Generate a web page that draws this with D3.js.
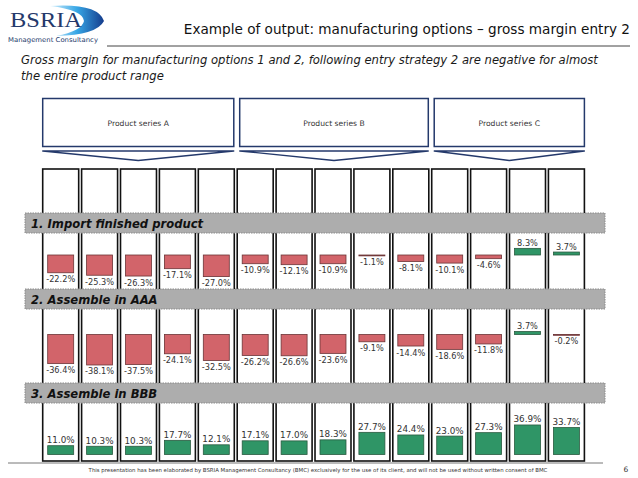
<!DOCTYPE html>
<html>
<head>
<meta charset="utf-8">
<script src="https://cdn.jsdelivr.net/npm/d3@7"></script>
<style>
  body { margin: 0; background: #fff; }
  svg { display: block; font-family: "DejaVu Sans", Verdana, sans-serif; }
</style>
</head>
<body>
<svg width="638" height="478"></svg>
<script>
// data
const products = d3.range(14);
const seriesNames = ["Product series A", "Product series B", "Product series C"];
const seriesFirst = [0, 5, 10];
const seriesLast = [4, 9, 13];
const optionNames = ["1. Import finished product", "2. Assemble in AAA", "3. Assemble in BBB"];
const importValues = [-22.2, -25.3, -26.3, -17.1, -27.0, -10.9, -12.1, -10.9, -1.1, -8.1, -10.1, -4.6, 8.3, 3.7];
const aaaValues = [-36.4, -38.1, -37.5, -24.1, -32.5, -26.2, -26.6, -23.6, -9.1, -14.4, -18.6, -11.8, 3.7, -0.2];
const bbbValues = [11.0, 10.3, 10.3, 17.7, 12.1, 17.1, 17.0, 18.3, 27.7, 24.4, 23.0, 27.3, 36.9, 33.7];

const svg = d3.select("svg");
const navy = "#24396b";

// logo
const defs = svg.append("defs");
const grad = defs.append("linearGradient").attr("id", "sw").attr("x1", "0").attr("x2", "1").attr("y1", "0").attr("y2", "0");
grad.append("stop").attr("offset", "0").attr("stop-color", "#d4f0fc");
grad.append("stop").attr("offset", "0.5").attr("stop-color", "#36a6e6");
grad.append("stop").attr("offset", "1").attr("stop-color", "#153c8c");
svg.append("path")
  .attr("d", "M50,6 Q98,3 104,21 Q97,35 56,36 Q82,31 84,21 Q83,10 50,6 Z")
  .attr("fill", "url(#sw)");
svg.append("text").attr("x", 10).attr("y", 27)
  .style("font-family", "'Liberation Serif', serif").style("font-size", "21px")
  .attr("fill", navy).attr("textLength", 72).attr("lengthAdjust", "spacingAndGlyphs").text("BSRIA");
svg.append("text").attr("x", 8).attr("y", 42)
  .style("font-size", "6.6px").attr("fill", navy).attr("textLength", 90)
  .attr("lengthAdjust", "spacingAndGlyphs").text("Management Consultancy");

// title
svg.append("text").attr("x", 630).attr("y", 34).attr("text-anchor", "end")
  .style("font-size", "13.6px").attr("fill", "#111")
  .text("Example of output: manufacturing options \u2013 gross margin entry 2");
svg.append("line").attr("x1", 107).attr("x2", 630).attr("y1", 46).attr("y2", 46)
  .attr("stroke", "#444").attr("stroke-width", 1);

const sub = svg.append("text").style("font-size", "11.6px").style("font-style", "italic").attr("fill", "#1a1a1a");
sub.append("tspan").attr("x", 21).attr("y", 64)
  .text("Gross margin for manufacturing options 1 and 2, following entry strategy 2 are negative for almost");
sub.append("tspan").attr("x", 21).attr("y", 80).text("the entire product range");

// columns
const x = d3.scaleBand().domain(products).range([42.7, 584.4]).paddingInner(0.075).paddingOuter(0);
const bw = x.bandwidth();

// product series boxes + chevrons
seriesNames.forEach((name, i) => {
  const x0 = x(seriesFirst[i]) + (i > 0 ? 2.5 : 0);
  const x1 = x(seriesLast[i]) + bw - (i < seriesNames.length - 1 ? 0.5 : 0);
  svg.append("rect").attr("x", x0).attr("y", 98.5).attr("width", x1 - x0).attr("height", 48)
    .attr("fill", "#fff").attr("stroke", navy).attr("stroke-width", 1.5);
  svg.append("text").attr("x", (x0 + x1) / 2).attr("y", 125.5).attr("text-anchor", "middle")
    .style("font-size", "7.6px").attr("fill", "#333").text(name);
  svg.append("path")
    .attr("d", `M${x0},151 L${x1},151 L${(x0 + x1) / 2},160.5 Z`)
    .attr("fill", "#fff").attr("stroke", navy).attr("stroke-width", 1.3).attr("stroke-linejoin", "round");
});

svg.append("g").selectAll("rect").data(products).join("rect")
  .attr("x", d => x(d)).attr("y", 169).attr("width", bw).attr("height", 292)
  .attr("fill", "#fff").attr("stroke", "#111").attr("stroke-width", 1.6);

// option sections
const sections = [
  { name: optionNames[0], values: importValues, band: 213, zero: 255, size: 8.2 },
  { name: optionNames[1], values: aaaValues, band: 289, zero: 334.5, size: 8.2 },
  { name: optionNames[2], values: bbbValues, band: 383, zero: 454.5, size: 8.8 }
];
const pct = d => d.toFixed(1) + "%";

sections.forEach(s => {
  svg.append("rect").attr("x", 25).attr("y", s.band).attr("width", 580).attr("height", 20)
    .attr("fill", "#adadad").attr("stroke", "#8a8a8a").attr("stroke-width", 1)
    .attr("stroke-dasharray", "1.5,1");
  svg.append("text").attr("x", 31).attr("y", s.band + 14.5)
    .style("font-size", "11.6px").style("font-weight", "bold").style("font-style", "italic")
    .attr("fill", "#111").text(s.name);

  const y = d3.scaleLinear().domain([-40, 40]).range([s.zero + 32, s.zero - 32]);
  const bx = 5;
  const g = svg.append("g");
  g.selectAll("rect").data(s.values).join("rect")
    .attr("x", (d, i) => x(i) + bx).attr("width", bw - 2 * bx)
    .attr("y", d => Math.min(y(d), y(0)))
    .attr("height", d => Math.max(0.8, Math.abs(y(d) - y(0))))
    .attr("fill", d => d >= 0 ? "#2f9566" : "#d2646a")
    .attr("stroke", d => d >= 0 ? "#2a5a40" : "#6b3436")
    .attr("stroke-width", 0.8);
  g.selectAll("text").data(s.values).join("text")
    .attr("x", (d, i) => x(i) + bw / 2)
    .attr("y", d => d >= 0 ? y(d) - 2.5 : y(d) + 9.5)
    .attr("text-anchor", "middle")
    .style("font-size", s.size + "px").attr("fill", "#333")
    .text(pct);
});

// footer
svg.append("line").attr("x1", 8).attr("x2", 603).attr("y1", 463).attr("y2", 463)
  .attr("stroke", "#777").attr("stroke-width", 1);
svg.append("text").attr("x", 318).attr("y", 471.5).attr("text-anchor", "middle")
  .style("font-size", "5.4px").attr("fill", "#333")
  .text("This presentation has been elaborated by BSRIA Management Consultancy (BMC) exclusively for the use of its client, and will not be used without written consent of BMC");
svg.append("text").attr("x", 626).attr("y", 472).attr("text-anchor", "middle")
  .style("font-size", "7.5px").attr("fill", "#333").text("6");
</script>
</body>
</html>
